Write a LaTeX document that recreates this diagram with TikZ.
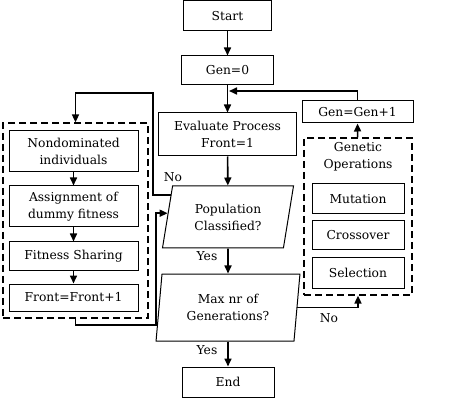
\documentclass[tikz,border=0pt]{standalone}
\usepackage{fontspec}
\setmainfont{DejaVu Serif}
\usetikzlibrary{shapes.geometric,arrows.meta,calc}
\begin{document}
\begin{tikzpicture}[x=1pt,y=-1pt,
  font=\fontsize{12.3}{17}\selectfont,
  block/.style={draw,line width=1pt,align=center,inner sep=0pt},
  para/.style={draw,line width=1pt,trapezium,trapezium stretches=true,align=center,inner sep=0pt},
  group/.style={draw,line width=1.2pt,dash pattern=on 7pt off 4pt,inner sep=0pt},
  flow/.style={line width=1.6pt,-{Triangle[length=8pt,width=7pt]}}]
	\useasboundingbox (0,0) rectangle (474,414);

	% main column
	\node[block,minimum width=88pt,minimum height=30pt] (start) at (227.5,16) {Start};
	\node[block,minimum width=92pt,minimum height=29pt] (gen0) at (227.5,70.5) {Gen=0};
	\node[block,minimum width=138pt,minimum height=43pt] (eval) at (227.5,134.5) {Evaluate Process\\Front=1};
	\node[para,trapezium left angle=77,trapezium right angle=103,minimum width=132pt,minimum height=62pt] (pop) at (228,217) {Population\\Classified?};
	\node[para,trapezium left angle=82,trapezium right angle=98,minimum width=144pt,minimum height=67pt] (maxgen) at (228,307.5) {Max nr of\\Generations?};
	\node[block,minimum width=92pt,minimum height=30pt] (end) at (228,382) {End};

	% ranking
	\node[group,minimum width=145pt,minimum height=195pt] (ranking) at (75.5,220.5) {};
	\node[block,minimum width=129pt,minimum height=41pt] (nondom) at (73.5,151.5) {Nondominated\\individuals};
	\node[block,minimum width=129pt,minimum height=41pt] (dummy) at (73.5,206.5) {Assignment of\\dummy fitness};
	\node[block,minimum width=129pt,minimum height=29pt] (sharing) at (73.5,256.5) {Fitness Sharing};
	\node[block,minimum width=129pt,minimum height=27pt] (nextfront) at (73.5,297.5) {Front=Front+1};

	% genetic operations
	\node[block,minimum width=111pt,minimum height=22pt] (gennext) at (357.5,112) {Gen=Gen+1};
	\node[group,minimum width=108pt,minimum height=157pt] (genops) at (358,216.5) {};
	\node[align=center] (opslabel) at (358,157) {Genetic\\Operations};
	\node[block,minimum width=92pt,minimum height=30pt] (mutation) at (358,199) {Mutation};
	\node[block,minimum width=92pt,minimum height=29pt] (crossover) at (358,235.5) {Crossover};
	\node[block,minimum width=92pt,minimum height=30pt] (selection) at (358,273) {Selection};

	% labels
	\node (no1) at (173,177) {No};
	\node (yes1) at (207,256) {Yes};
	\node (yes2) at (207,350) {Yes};
	\node (no2) at (329,318) {No};

	\coordinate (merge) at (229,91);
	\coordinate (noout) at ($(pop.top left corner)!0.15!(pop.bottom left corner)$);
	\coordinate (nocorner) at (153,93);
	\coordinate (retin) at ($(pop.top left corner)!0.44!(pop.bottom left corner)$);
	\coordinate (retcorner) at (156,325);

	\draw[flow] (start) -- (gen0);
	\draw[flow] (gen0) -- (eval);
	\draw[flow] (eval) -- (pop);
	\draw[flow] (pop) -- (maxgen);
	\draw[flow] (maxgen) -- (end);
	\draw[flow] (maxgen.east) -| (genops.south);
	\draw[flow] (genops) -- (gennext);
	\draw[flow] (gennext.north) |- (merge);
	\draw[flow] (noout) -| (nocorner) -| (ranking.north);
	\draw[flow] (ranking.south) |- (retcorner) |- (retin);

	\draw[flow] (nondom) -- (dummy);
	\draw[flow] (dummy) -- (sharing);
	\draw[flow] (sharing) -- (nextfront);
\end{tikzpicture}
\end{document}
